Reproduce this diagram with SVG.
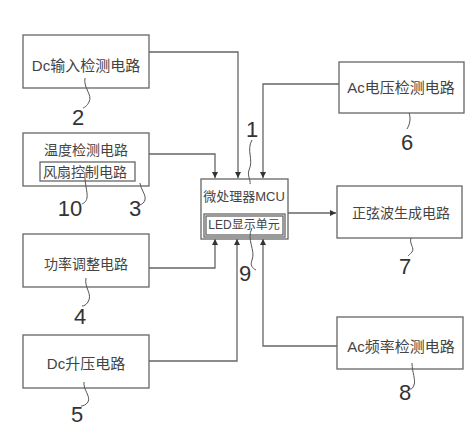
<svg xmlns="http://www.w3.org/2000/svg" width="474" height="444" viewBox="0 0 474 444">
<defs>
<marker id="ah" viewBox="0 0 10 10" refX="10" refY="5" markerWidth="6" markerHeight="6" orient="auto" markerUnits="userSpaceOnUse">
<path d="M0,0 L10,5 L0,10 z" fill="#333"/>
</marker>
<style>
.box{fill:#fff;stroke:#666;stroke-width:1.3}
.t{font-family:"Liberation Sans","Noto Sans CJK SC",sans-serif;fill:#444;text-anchor:middle;dominant-baseline:central}
.n{font-family:"Liberation Sans",sans-serif;fill:#333;font-size:22px;text-anchor:middle;dominant-baseline:central}
.c{fill:none;stroke:#666;stroke-width:1.3}
.sq{fill:none;stroke:#555;stroke-width:1}
</style>
</defs>
<rect width="474" height="444" fill="#fff"/>
<g id="connectors">
<polyline class="c" points="149,52 238,52 238,178" marker-end="url(#ah)"/>
<polyline class="c" points="149,154 215,154 215,178" marker-end="url(#ah)"/>
<polyline class="c" points="339,84 263,84 263,178" marker-end="url(#ah)"/>
<polyline class="c" points="149,268 215,268 215,239" marker-end="url(#ah)"/>
<polyline class="c" points="149,361 237,361 237,239" marker-end="url(#ah)"/>
<polyline class="c" points="337,346 263,346 263,239" marker-end="url(#ah)"/>
<polyline class="c" points="288,213 336,213" marker-end="url(#ah)"/>
</g>
<g id="node-2">
<rect class="box" x="23" y="35" width="126" height="53"/>
<text class="t" x="86" y="65" font-size="15">Dc输入检测电路</text>
<path class="sq" d="M85,78 C83,88 93,95 89,102 C87,106 85,107 83,108"/>
<text class="n" x="78" y="117">2</text>
</g>
<g id="node-3">
<rect class="box" x="23" y="133" width="126" height="53"/>
<text class="t" x="86" y="150" font-size="14">温度检测电路</text>
<path class="sq" d="M140,183 C141,190 146,194 145,200 C144,203 142,204 140,205"/>
<text class="n" x="135" y="208">3</text>
</g>
<g id="node-10">
<rect class="box" x="40" y="162" width="95" height="19"/>
<text class="t" x="85" y="172" font-size="14">风扇控制电路</text>
<path class="sq" d="M85,172 C84,182 88,192 87,198 C86,202 84,203 82,204"/>
<text class="n" x="70" y="208">10</text>
</g>
<g id="node-4">
<rect class="box" x="23" y="234" width="126" height="53"/>
<text class="t" x="86" y="264" font-size="14">功率调整电路</text>
<path class="sq" d="M86,278 C84,288 93,294 88,302 C86,305 84,306 82,306"/>
<text class="n" x="80" y="316">4</text>
</g>
<g id="node-5">
<rect class="box" x="23" y="335" width="126" height="53"/>
<text class="t" x="86" y="363" font-size="15">Dc升压电路</text>
<path class="sq" d="M84,382 C83,390 91,396 88,402 C86,405 83,406 81,406"/>
<text class="n" x="77" y="414">5</text>
</g>
<g id="node-1">
<rect class="box" x="201" y="179" width="87" height="60"/>
<text class="t" x="244" y="196" font-size="13">微处理器MCU</text>
<path class="sq" d="M252,140 C246,150 254,160 249,170 C247,176 251,180 250,184"/>
<text class="n" x="252" y="129">1</text>
</g>
<g id="node-9">
<rect class="box" x="204" y="214" width="81" height="23"/>
<rect class="box" x="206" y="216" width="77" height="19"/>
<text class="t" x="244" y="225" font-size="12">LED显示单元</text>
<path class="sq" d="M252,228 C246,240 256,250 252,260 C250,265 252,268 256,270"/>
<text class="n" x="245" y="273">9</text>
</g>
<g id="node-6">
<rect class="box" x="339" y="62" width="125" height="51"/>
<text class="t" x="401" y="87" font-size="15">Ac电压检测电路</text>
<path class="sq" d="M409,113 C411,118 410,124 407,129"/>
<text class="n" x="407" y="142">6</text>
</g>
<g id="node-7">
<rect class="box" x="337" y="186" width="125" height="52"/>
<text class="t" x="401" y="213" font-size="14">正弦波生成电路</text>
<path class="sq" d="M411,238 C409,244 415,248 412,252 C410,254 409,255 408,256"/>
<text class="n" x="405" y="266">7</text>
</g>
<g id="node-8">
<rect class="box" x="337" y="317" width="126" height="52"/>
<text class="t" x="401" y="346" font-size="15">Ac频率检测电路</text>
<path class="sq" d="M412,363 C412,372 416,380 414,385 C413,388 412,389 410,389"/>
<text class="n" x="405" y="392">8</text>
</g>
</svg>
